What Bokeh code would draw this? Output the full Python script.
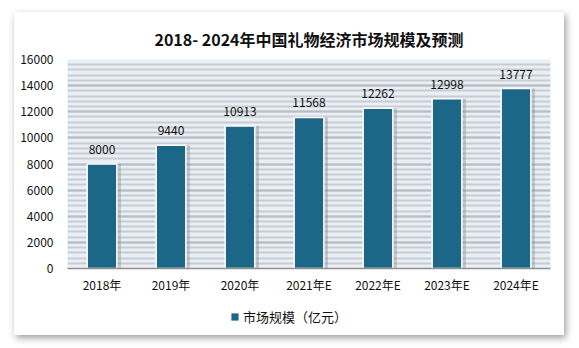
from bokeh.plotting import figure
from bokeh.layouts import column
from bokeh.models import (ColumnDataSource, LabelSet, Legend, LegendItem,
                          SingleIntervalTicker, Range1d)
from bokeh.core.properties import value
from bokeh.transform import dodge
from bokeh.embed import file_html
from bokeh.resources import INLINE

# Market size of China's gift economy, 2018-2024 (100 million yuan)
years = ["2018年", "2019年", "2020年", "2021年E", "2022年E", "2023年E", "2024年E"]
market_size = [8000, 9440, 10913, 11568, 12262, 12998, 13777]
series_name = "市场规模（亿元）"
title_text = "2018- 2024年中国礼物经济市场规模及预测"

FONT = "Noto Sans CJK SC"
BAR_COLOR = "#1c6688"
TEXT_COLOR = "#111111"

source = ColumnDataSource(data=dict(
    year=years,
    value=market_size,
    label=[str(v) for v in market_size],
))

p = figure(
    x_range=years,
    y_range=Range1d(0, 16000),
    width=550, height=290,
    output_backend="svg",
    toolbar_location=None,
    title=title_text,
    min_border_left=53, min_border_right=14,
    min_border_top=47, min_border_bottom=34,
)
p.border_fill_color = "white"
p.background_fill_color = "#e9eff5"
p.outline_line_color = None

p.title.align = "center"
p.title.text_font = FONT
p.title.text_font_size = "16px"
p.title.text_font_style = "bold"
p.title.text_color = TEXT_COLOR
p.title.offset = 0
p.title.standoff = 18

# soft shadow to the right of each bar
p.vbar(x=dodge("year", 0.045, range=p.x_range), top="value", width=0.46,
       bottom=0, source=source, fill_color="#7d8288", fill_alpha=0.35,
       line_color=None)

bars = p.vbar(x="year", top="value", width=0.43, bottom=0, source=source,
              fill_color=BAR_COLOR, line_color="white", line_width=1.5)

labels = LabelSet(x="year", y="value", text="label", source=source,
                  text_align="center", text_baseline="bottom", y_offset=10,
                  text_font=value(FONT), text_font_size=value("12px"),
                  text_color=TEXT_COLOR)
p.add_layout(labels)

# y axis: major ticks every 2000, striped minor lines every 400
p.yaxis.ticker = SingleIntervalTicker(interval=2000, num_minor_ticks=5)
p.yaxis.axis_line_color = None
p.yaxis.major_tick_line_color = None
p.yaxis.minor_tick_line_color = None
p.yaxis.major_label_text_font = FONT
p.yaxis.major_label_text_font_size = "12px"
p.yaxis.major_label_text_color = TEXT_COLOR
p.yaxis.major_label_standoff = 8

p.ygrid.grid_line_color = "#b9bec4"
p.ygrid.grid_line_width = 2
p.ygrid.minor_grid_line_color = "#c8cdd3"
p.ygrid.minor_grid_line_width = 2
p.xgrid.grid_line_color = None

p.xaxis.axis_line_color = "#909090"
p.xaxis.axis_line_width = 1.5
p.xaxis.major_tick_line_color = None
p.xaxis.minor_tick_line_color = None
p.xaxis.major_label_text_font = FONT
p.xaxis.major_label_text_font_size = "12px"
p.xaxis.major_label_text_color = TEXT_COLOR
p.xaxis.major_label_standoff = 1

# strip underneath the chart that carries the legend; its key bar has no
# height, so only the legend entry is visible
lf = figure(width=550, height=33, output_backend="svg", toolbar_location=None,
            min_border=0, x_range=Range1d(0, 1), y_range=Range1d(0, 1))
lf.axis.visible = False
lf.grid.visible = False
lf.outline_line_color = None
lf.background_fill_color = "white"
lf.border_fill_color = "white"
key = lf.vbar(x=[-10], top=[0], bottom=[0], width=0.1, fill_color=BAR_COLOR,
              line_color=None)

legend = Legend(items=[LegendItem(label=series_name, renderers=[key])],
                location=(163, 9), orientation="horizontal",
                label_text_font=FONT, label_text_font_size="13px",
                label_text_color=TEXT_COLOR, glyph_width=9, glyph_height=9,
                border_line_color=None, background_fill_alpha=0,
                padding=2, margin=0, label_standoff=4)
lf.add_layout(legend)

card = column(p, lf, spacing=0)
card.margin = (12, 0, 0, 14)
card.styles = {"box-shadow": "2px 3px 7px rgba(0,0,0,0.38)",
               "background-color": "white"}

open("out.html", "w").write(file_html(card, INLINE))
